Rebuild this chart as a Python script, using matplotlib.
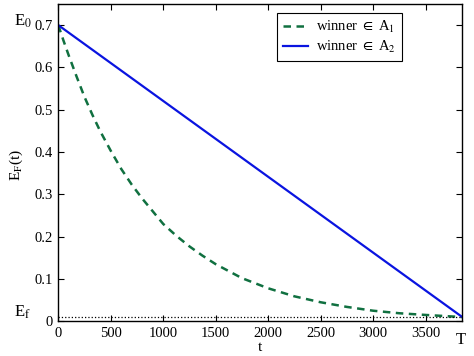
import matplotlib
matplotlib.use('Agg')
import matplotlib.pyplot as plt
import numpy as np

plt.rcParams['font.family'] = ['Liberation Serif', 'DejaVu Serif']
plt.rcParams['mathtext.fontset'] = 'stix'

T_END = 3850
E0 = 0.7
EF = 0.01

# winner in A1: decay
t_a1 = [0, 50, 100, 175, 250, 325, 400, 500, 600, 700, 800, 900, 1000, 1125, 1250,
        1375, 1500, 1750, 2000, 2250, 2500, 2750, 3000, 3250, 3500, 3850]
e_a1 = [0.700, 0.663, 0.628, 0.578, 0.530, 0.488, 0.449, 0.403, 0.360, 0.323, 0.290,
        0.260, 0.230, 0.202, 0.177, 0.155, 0.135, 0.102, 0.078, 0.059, 0.045, 0.034,
        0.025, 0.019, 0.015, 0.010]

# winner in A2: straight line
t_a2 = [0, 3850]
e_a2 = [0.700, 0.010]

fig = plt.figure(figsize=(4.74, 3.56), dpi=100)
ax = fig.add_axes([0.1230, 0.0975, 0.8523, 0.8913])

ax.plot(t_a1, e_a1, color='#107040', lw=1.8, dashes=(3, 2.2),
        label=r'winner $\in$ A$_\mathrm{1}$')
ax.plot(t_a2, e_a2, color='#0a14e0', lw=1.6, label=r'winner $\in$ A$_\mathrm{2}$')
ax.plot([0, T_END], [EF, EF], color='black', lw=0.9, ls=':')

ax.set_xlim(0, T_END)
ax.set_ylim(0, 0.75)
ax.set_xticks(np.arange(0, 3501, 500))
ax.set_yticks(np.arange(0, 0.71, 0.1))
ax.set_yticklabels(['0', '0.1', '0.2', '0.3', '0.4', '0.5', '0.6', '0.7'])
ax.tick_params(direction='in', top=True, right=True, length=4, width=0.8,
               labelsize=10.5, pad=4)
for sp in ax.spines.values():
    sp.set_linewidth(1.0)

ax.set_xlabel('t', fontsize=11, labelpad=1)
fig.text(16 / 474, 1 - 165 / 356, r'E$_\mathrm{F}$(t)', fontsize=11, rotation=90,
         ha='center', va='center')

fig.text(23 / 474, 1 - 21 / 356, r'E$_\mathrm{0}$', fontsize=12, ha='center', va='center')
fig.text(23 / 474, 1 - 312 / 356, r'E$_\mathrm{f}$', fontsize=12, ha='center', va='center')
fig.text(461 / 474, 1 - 340 / 356, 'T', fontsize=12, ha='center', va='center')

leg = ax.legend(loc='upper right', bbox_to_anchor=(0.851, 0.972), borderaxespad=0,
                fancybox=False, edgecolor='black', framealpha=1, fontsize=10.5,
                handlelength=1.7, handletextpad=0.6, labelspacing=0.3,
                borderpad=0.4)
leg.get_frame().set_linewidth(0.8)

fig.savefig('out.png', dpi=100)
